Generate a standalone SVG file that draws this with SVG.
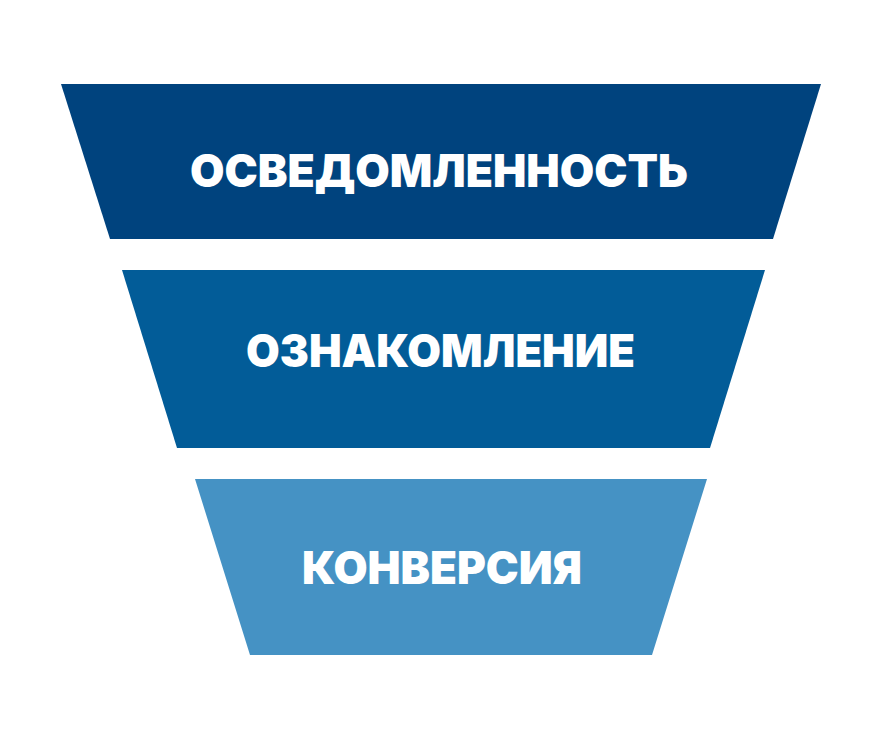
<svg xmlns="http://www.w3.org/2000/svg" width="883" height="739" viewBox="0 0 883 739">
<style>
.lbl{font-family:Inter,"Noto Sans","Liberation Sans",sans-serif;font-weight:900;font-size:45px;fill:#ffffff}
</style>
<rect width="883" height="739" fill="#ffffff"/>
<g id="stage1">
<polygon points="61,84 821,84 773,239 110,239" fill="#00437E"/>
<text class="lbl" x="190" y="187" textLength="498" lengthAdjust="spacingAndGlyphs">ОСВЕДОМЛЕННОСТЬ</text>
</g>
<g id="stage2">
<polygon points="122,270 765,270 710,448 177,448" fill="#025C98"/>
<text class="lbl" x="246" y="367" textLength="389" lengthAdjust="spacingAndGlyphs">ОЗНАКОМЛЕНИЕ</text>
</g>
<g id="stage3">
<polygon points="195,479 707,479 652,655 250,655" fill="#4592C4"/>
<text class="lbl" x="302" y="584" textLength="280" lengthAdjust="spacingAndGlyphs">КОНВЕРСИЯ</text>
</g>
<g id="connectors"/>
</svg>
